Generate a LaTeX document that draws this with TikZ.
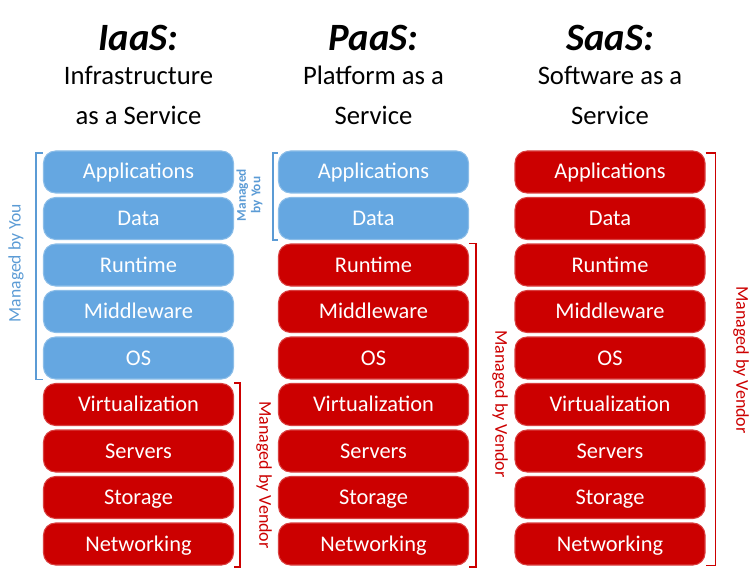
\documentclass[tikz,border=0pt]{standalone}
\usepackage{fontspec}
\setmainfont{Carlito}
\usepackage{xcolor}
\usepackage{tikz}
\usetikzlibrary{positioning}

\definecolor{youblue}{RGB}{101,167,225}
\definecolor{youline}{RGB}{91,155,213}
\definecolor{vendred}{RGB}{204,0,0}

\tikzset{
	layer/.style={rounded corners=9pt, minimum width=142.5pt, minimum height=31.5pt,
		inner sep=0pt, text height=13pt, text depth=2.5pt, text=white,
		font=\fontsize{16.8}{18}\selectfont,
		fill=#1, draw=#1!75!white, line width=0.8pt},
	title/.style={font=\fontsize{29}{34}\selectfont\bfseries\itshape},
	subtitle/.style={align=center, font=\fontsize{20}{30}\selectfont},
	youbrace/.style={draw=youline, line width=1.1pt},
	vendbrace/.style={draw=vendred, line width=1.1pt},
	youlabel/.style={text=youline, font=\fontsize{13.2}{15}\selectfont},
	vendlabel/.style={text=vendred, font=\fontsize{13.5}{15}\selectfont}
}

\begin{document}
\begin{tikzpicture}[x=0.75pt,y=-0.75pt]
	\useasboundingbox (0,0) rectangle (752,570);
	%
	\node[title] (tI) at (138.5,38) {IaaS:};
	\node[title] (tP) at (373.5,38) {PaaS:};
	\node[title] (tS) at (610,38) {SaaS:};
	\node[subtitle] (sI) at (138.5,95) {Infrastructure\\as a Service};
	\node[subtitle] (sP) at (373.5,95) {Platform as a\\Service};
	\node[subtitle] (sS) at (610,95) {Software as a\\Service};
	%
	\foreach \lbl [count=\i] in {Applications,Data,Runtime,Middleware,OS,Virtualization,Servers,Storage,Networking}{
		\pgfmathsetmacro{\y}{172+46.5*(\i-1)}
		\ifnum\i<6 \def\icol{youblue}\else\def\icol{vendred}\fi
		\ifnum\i<3 \def\pcol{youblue}\else\def\pcol{vendred}\fi
		\node[layer=\icol] (i\i) at (138.5,\y) {\lbl};
		\node[layer=\pcol] (p\i) at (373.5,\y) {\lbl};
		\node[layer=vendred] (s\i) at (610,\y) {\lbl};
	}
	%
	\draw[youbrace] ([yshift=-2pt]i1.north west) -- ++(-7,0) |- (i5.south west);
	\draw[vendbrace] (i6.north east) -- ++(6,0) |- ([yshift=-1pt]i9.south east);
	\draw[youbrace] ([yshift=-2pt]p1.north west) -- ++(-5,0) |- (p2.south west);
	\draw[vendbrace] (p3.north east) -- ++(7,0) |- ([yshift=-1pt]p9.south east);
	\draw[vendbrace] ([yshift=-2pt]s1.north east) -- ++(10,0) |- (s9.south east);
	%
	\node[youlabel, rotate=90] (yI) at (16,263) {Managed by You};
	\node[youlabel, rotate=90, align=center, font=\fontsize{10}{11}\selectfont\bfseries] (yP) at (249.5,195) {Managed\\by You};
	\node[vendlabel, rotate=-90] (vI) at (264,475) {Managed by Vendor};
	\node[vendlabel, rotate=-90] (vP) at (500,404) {Managed by Vendor};
	\node[vendlabel, rotate=-90] (vS) at (741,360) {Managed by Vendor};
\end{tikzpicture}
\end{document}
